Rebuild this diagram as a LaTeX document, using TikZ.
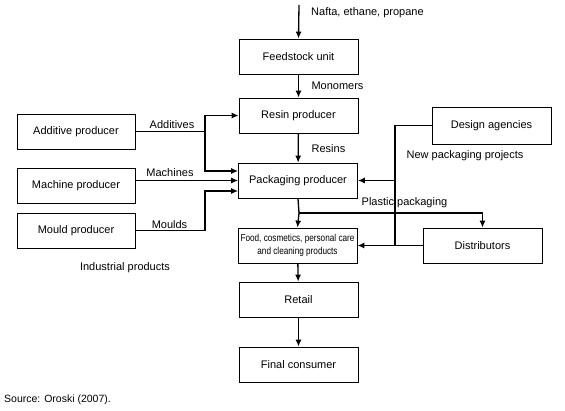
\documentclass[tikz,border=0pt]{standalone}
\usepackage{fontspec}
\setmainfont{Liberation Sans}
\newfontfamily\narrowfont[FakeStretch=0.82]{Liberation Sans}
\usepackage{tikz}
\usetikzlibrary{positioning, arrows.meta, calc}
\tikzstyle{stage}=[draw, line width=0.8pt, minimum width=119pt, minimum height=35pt,
  inner sep=0pt, font=\fontsize{11}{13}\selectfont]
\tikzstyle{flow}=[line width=1.3pt]
\tikzstyle{flowArrow}=[-{Latex[length=7pt,width=6pt]}, line width=1.3pt]
\tikzstyle{flowLabel}=[font=\fontsize{11}{13}\selectfont, inner sep=0pt]

\begin{document}
\begin{tikzpicture}[x=1pt, y=-1pt]
      \useasboundingbox (0,0) rectangle (565,410);

      % main chain
      \node[stage] (feed) at (298.5,56.5) {Feedstock unit};
      \node[stage] (resin) at (298.5,115.5) {Resin producer};
      \node[stage] (pack) at (298,180.5) {Packaging producer};
      \node[stage, align=center, font=\narrowfont\fontsize{10}{12.5}\selectfont] (food) at (297.5,245.5)
        {Food, cosmetics, personal care\\and cleaning products};
      \node[stage] (retail) at (298.5,299.5) {Retail};
      \node[stage] (consumer) at (298.5,364.5) {Final consumer};

      % suppliers
      \node[stage, minimum width=118pt] (additive) at (76,131.5) {Additive producer};
      \node[stage, minimum width=118pt] (machine) at (76,185.5) {Machine producer};
      \node[stage, minimum width=118pt] (mould) at (76,230.5) {Mould producer};

      \node[stage, minimum height=37pt] (design) at (491.5,125.5) {Design agencies};
      \node[stage] (distrib) at (482.5,245.5) {Distributors};

      \coordinate (nafta) at (299,5);
      \coordinate (addJoin) at (205,131.5);
      \coordinate (mouldJoin) at (205,230.5);
      \coordinate (desJoin) at (395,125.5);
      \coordinate (plastJoin) at (299,213);

      \draw[flowArrow] (nafta) -- (feed.north);
      \draw[flowArrow] (feed) -- (resin);
      \draw[flowArrow] (resin) -- (pack);

      \draw[flow] (additive.east) -- (addJoin);
      \draw[flowArrow] (addJoin) |- (resin.west);
      \draw[flowArrow] (addJoin) |- ([yshift=9.5pt]pack.west);
      \draw[flowArrow] (machine.east |- pack.west) -- (pack.west);
      \draw[flow] (mould.east) -- (mouldJoin);
      \draw[flowArrow] (mouldJoin) |- ([yshift=-10.5pt]pack.west);

      \draw[flow] (design.west) -- (desJoin) -- (desJoin |- food.east);
      \draw[flowArrow] (desJoin |- pack.east) -- (pack.east);
      \draw[flowArrow] (distrib.west) -- (food.east);

      \draw[flow] (pack.south) -- (plastJoin);
      \draw[flowArrow] (plastJoin) -- (food.north);
      \draw[flowArrow] (plastJoin) -| (distrib.north);

      \draw[flowArrow] (food) -- (retail);
      \draw[flowArrow] (retail) -- (consumer);

      % labels
      \node[flowLabel, anchor=west] (naftaText) at (311,13) {Nafta, ethane, propane};
      \node[flowLabel] (monoText) at (337.5,86) {Monomers};
      \node[flowLabel] (resinText) at (328.5,148.5) {Resins};
      \node[flowLabel] (addText) at (172,125) {Additives};
      \node[flowLabel] (machText) at (170,173) {Machines};
      \node[flowLabel] (mouldText) at (169.5,225) {Moulds};
      \node[flowLabel] (newText) at (465,156) {New packaging projects};
      \node[flowLabel] (plastText) at (404.5,203) {Plastic packaging};
      \node[flowLabel] (indText) at (125,268) {Industrial products};
      \node[flowLabel, anchor=west, font=\fontsize{10.5}{13}\selectfont] (srcText) at (4,400)
        {Source: Oroski (2007).};
\end{tikzpicture}
\end{document}
